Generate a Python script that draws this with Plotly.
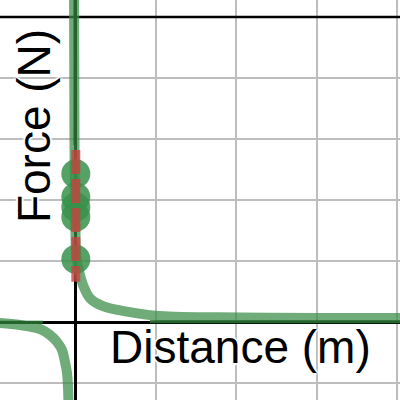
import plotly.graph_objects as go

# light (thick) curve in grid units
curve_left_x = [-0.95, -0.68, -0.434, -0.31, -0.223, -0.161, -0.124, -0.099, -0.087, -0.081]
curve_left_y = [-0.016, -0.05, -0.115, -0.213, -0.328, -0.459, -0.656, -0.836, -1.066, -1.35]
curve_right_x = [-0.012, -0.006, 0.012, 0.025, 0.062, 0.099, 0.186, 0.347, 0.645, 1.05, 2.05, 3.04, 4.1]
curve_right_y = [5.35, 2.82, 1.18, 0.98, 0.77, 0.61, 0.39, 0.26, 0.17, 0.098, 0.074, 0.066, 0.066]

# thin dark curve, hugging the axes
dark_x = [-0.95, -0.4, None, 0.93, 4.1, None, 0.0, 0.0]
dark_y = [-0.004, -0.004, None, 0.004, 0.004, None, 2.9, 5.35]

# measured points and the red segment
point_x = [0.01, 0.01, 0.01, 0.01, 0.01]
point_y = [2.43, 2.05, 1.885, 1.72, 1.03]
seg_x = [0.01, 0.01]
seg_y = [2.82, 0.66]

# black horizontal line at the top
top_x = [-1, 4.1]
top_y = [5, 5]

fig = go.Figure()

fig.add_trace(go.Scatter(x=top_x, y=top_y, mode="lines",
                         line=dict(color="black", width=2.5)))
fig.add_trace(go.Scatter(x=curve_left_x, y=curve_left_y, mode="lines",
                         line=dict(color="rgba(56,140,70,0.72)", width=10, shape="spline")))
fig.add_trace(go.Scatter(x=curve_right_x, y=curve_right_y, mode="lines",
                         line=dict(color="rgba(56,140,70,0.72)", width=10, shape="spline")))
fig.add_trace(go.Scatter(x=dark_x, y=dark_y, mode="lines", connectgaps=False,
                         line=dict(color="rgb(35,100,45)", width=3)))
fig.add_trace(go.Scatter(x=point_x, y=point_y, mode="markers",
                         marker=dict(size=29, color="rgb(56,145,75)", opacity=0.85,
                                     line=dict(width=0))))
fig.add_trace(go.Scatter(x=seg_x, y=seg_y, mode="lines",
                         line=dict(color="rgba(199,68,64,0.8)", width=9, dash="24px,5px")))

halo = "white 2px 0px 1px, white -2px 0px 1px, white 0px 2px 1px, white 0px -2px 1px"
label_font = dict(family="Liberation Sans, Arial", size=46, color="black", shadow=halo)

fig.add_annotation(x=2.05, y=-0.41, text="Distance (m)", showarrow=False,
                   font=label_font, xanchor="center", yanchor="middle")
fig.add_annotation(x=-0.51, y=3.21, text="Force (N)", showarrow=False, textangle=-90,
                   font=label_font, xanchor="center", yanchor="middle")

axis_common = dict(dtick=1, tick0=0, showticklabels=False, ticks="",
                   gridcolor="#bdbdbd", gridwidth=1.8,
                   zeroline=True, zerolinecolor="black", zerolinewidth=3,
                   showline=False, fixedrange=True)

fig.update_xaxes(range=[-75 / 80.6, 325 / 80.6], **axis_common)
fig.update_yaxes(range=[-78 / 61, 322 / 61], **axis_common)

fig.update_layout(width=400, height=400, margin=dict(l=0, r=0, t=0, b=0),
                  plot_bgcolor="white", paper_bgcolor="white", showlegend=False,
                  hovermode=False)

# drop the page's default body margin so the plot sits at the window corner
fig.write_html("out.html", config={"displayModeBar": False},
               post_script="document.body.style.margin='0';")
